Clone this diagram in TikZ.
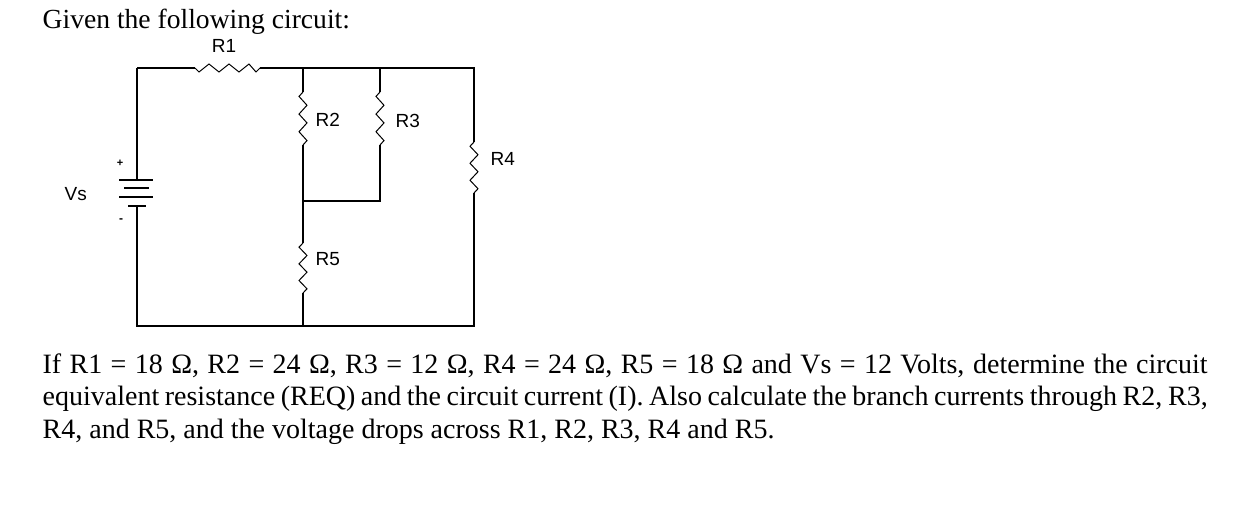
\documentclass[tikz,border=0pt]{standalone}
\usepackage{fontspec}
\setmainfont{Liberation Serif}
\newfontfamily\lab{Liberation Sans}
\begin{document}
\begin{tikzpicture}[x=1pt,y=-1pt,line width=1.3pt,
  lbl/.style={font=\lab\fontsize{19}{21}\selectfont,inner sep=0pt,anchor=west},
  zz/.style={line width=1pt}]
\useasboundingbox (0,0) rectangle (1259,511);
\node[anchor=base west,inner sep=0pt,font=\fontsize{27.6}{30}\selectfont] (title) at (42,29) {Given the following circuit:};
% coordinates
\coordinate (TL) at (137,68); \coordinate (TR) at (474,68);
\coordinate (BL) at (137,326); \coordinate (BR) at (474,326);
\coordinate (A) at (303,68); \coordinate (B) at (380,68);
\coordinate (J) at (303,201); \coordinate (K) at (380,201);
\coordinate (D) at (303,326);
% wires
\draw (TL) -- (137,180);
\draw (137,206) -- (BL) -- (BR) -- (474,193);
\draw (474,142) -- (TR) -- (260,68);
\draw (195,68) -- (TL);
\draw (A) -- (303,92); \draw (303,145) -- (J) -- (303,243); \draw (303,293) -- (D);
\draw (B) -- (380,92); \draw (380,145) -- (K) -- (J);
% R1 horizontal zigzag
\draw[zz] (195,68) -- (199,72) -- (209,64) -- (219,72) -- (229,64) -- (239,72) -- (249,64) -- (256,72) -- (260,68);
% vertical zigzags
\foreach \x/\ya/\yb in {303/92/145, 380/92/145, 474/142/193, 303/243/293}{
  \pgfmathsetmacro{\h}{(\yb-\ya)/6}
  \draw[zz] (\x,\ya) -- (\x-4,\ya+0.5*\h) -- (\x+4,\ya+1.5*\h) -- (\x-4,\ya+2.5*\h) -- (\x+4,\ya+3.5*\h) -- (\x-4,\ya+4.5*\h) -- (\x+4,\ya+5.5*\h) -- (\x,\yb);
}
% battery
\draw (119,180) -- (153,180);
\draw (124,188) -- (149,188);
\draw (119,197) -- (153,197);
\draw (128,206) -- (146,206);
\node[font=\lab\bfseries\fontsize{11}{12}\selectfont,inner sep=0pt] (plus) at (120,163) {+};
\node[font=\lab\bfseries\fontsize{12}{12}\selectfont,inner sep=0pt] (minus) at (121,221) {-};
\node[lbl] (vs) at (64,194) {Vs};
\node[lbl,anchor=center] (r1) at (224,46) {R1};
\node[lbl] (r2) at (315,120) {R2};
\node[lbl] (r3) at (395,121) {R3};
\node[lbl] (r4) at (490,159) {R4};
\node[lbl] (r5) at (315,259) {R5};
\node[anchor=north west,inner sep=0pt,text width=1165pt,align=justify,font=\fontsize{28}{32.5}\selectfont] (para) at (42,353)
{If R1 = 18 Ω, R2 = 24 Ω, R3 = 12 Ω, R4 = 24 Ω, R5 = 18 Ω and Vs = 12 Volts, determine the circuit\linebreak equivalent resistance (REQ) and the circuit current (I). Also calculate the branch currents through R2, R3,\linebreak R4, and R5, and the voltage drops across R1, R2, R3, R4 and R5.\par};
\end{tikzpicture}
\end{document}
